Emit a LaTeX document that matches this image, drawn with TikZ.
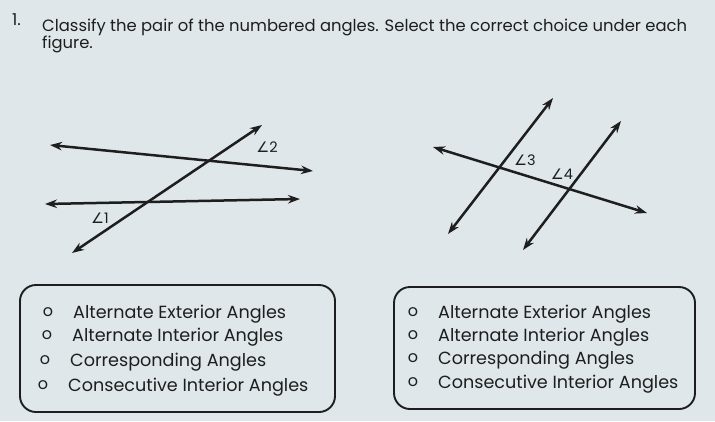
\documentclass[tikz,border=0pt]{standalone}
\usepackage{fontspec}
\setmainfont{Poppins}
\newfontfamily\symfont{DejaVu Sans}
\usetikzlibrary{arrows.meta}
\definecolor{paper}{HTML}{DFE7EA}
\definecolor{ink}{HTML}{1E1E1E}
\tikzset{
  dline/.style={ink, line width=2.5pt, {Stealth[length=12pt,width=8.5pt]}-{Stealth[length=12pt,width=8.5pt]}},
  lbl/.style={ink, font=\fontsize{14.5}{16}\selectfont, inner sep=0pt},
  title/.style={ink, font=\fontsize{16.4}{19}\selectfont, anchor=base west, inner sep=0pt},
  opt/.style={ink, font=\fontsize{17.6}{20}\selectfont, anchor=base west, inner sep=0pt},
  bul/.style={ink, font=\fontsize{16}{18}\selectfont, anchor=base, inner sep=0pt},
  chbox/.style={ink, line width=1.9pt, rounded corners=16pt}
}
\begin{document}
\begin{tikzpicture}[x=1pt,y=-1pt]
\fill[paper] (0,0) rectangle (715,421);
\useasboundingbox (0,0) rectangle (715,421);
% title
\node[title] (num) at (12,25) {1.};
\node[title] (t1) at (42,31) {Classify the pair of the numbered angles. Select the correct choice under each};
\node[title] (t2) at (42,48) {figure.};
% left figure
\coordinate (a1) at (50,145); \coordinate (a2) at (313,171);
\coordinate (b1) at (45,204); \coordinate (b2) at (300,199);
\coordinate (c1) at (72,253); \coordinate (c2) at (262,125);
\draw[dline] (a1) -- (a2);
\draw[dline] (b1) -- (b2);
\draw[dline] (c1) -- (c2);
\node[lbl] (ang2) at (267,147) {{\symfont ∠}2};
\node[lbl] (ang1) at (100,218) {{\symfont ∠}1};
% right figure
\coordinate (d1) at (433,147); \coordinate (d2) at (647,213);
\coordinate (e1) at (448,234); \coordinate (e2) at (553,98);
\coordinate (f1) at (523,250); \coordinate (f2) at (621,121);
\draw[dline] (d1) -- (d2);
\draw[dline] (e1) -- (e2);
\draw[dline] (f1) -- (f2);
\node[lbl] (ang3) at (525,160) {{\symfont ∠}3};
\node[lbl] (ang4) at (562,174) {{\symfont ∠}4};
% left box
\draw[chbox] (20,285) rectangle (335,412);
\node[bul] (lb1) at (48,316) {o};
\node[bul] (lb2) at (47,339) {o};
\node[bul] (lb3) at (45,364) {o};
\node[bul] (lb4) at (43,389) {o};
\node[opt] (lo1) at (73,318) {Alternate Exterior Angles};
\node[opt] (lo2) at (72,341) {Alternate Interior Angles};
\node[opt] (lo3) at (70,366) {Corresponding Angles};
\node[opt] (lo4) at (68,391) {Consecutive Interior Angles};
% right box
\draw[chbox] (394,287) rectangle (695,409);
\node[bul] (rb1) at (413,316) {o};
\node[bul] (rb2) at (413,339) {o};
\node[bul] (rb3) at (413,362) {o};
\node[bul] (rb4) at (413,386) {o};
\node[opt] (ro1) at (438,318) {Alternate Exterior Angles};
\node[opt] (ro2) at (438,341) {Alternate Interior Angles};
\node[opt] (ro3) at (438,364) {Corresponding Angles};
\node[opt] (ro4) at (438,388) {Consecutive Interior Angles};
\end{tikzpicture}
\end{document}
